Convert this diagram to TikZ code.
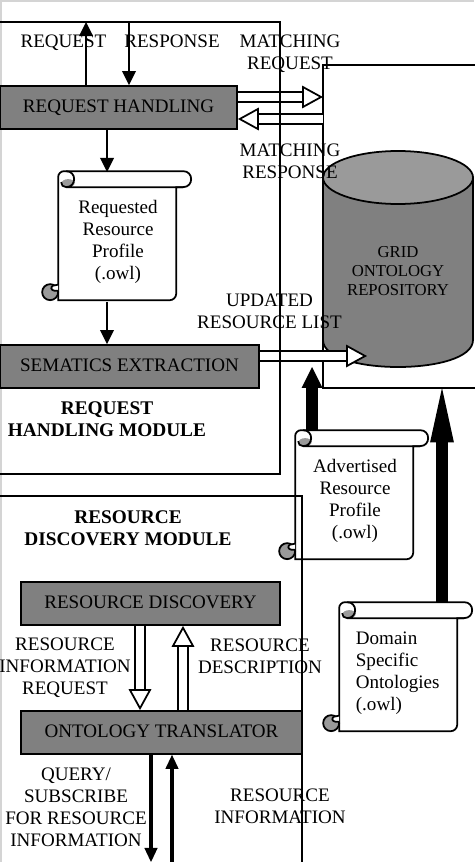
\documentclass[tikz,border=0pt]{standalone}
\usepackage{fontspec}
\setmainfont{Liberation Serif}
\usepackage{tikz}
\usetikzlibrary{arrows.meta}
\definecolor{boxGray}{HTML}{808080}
\definecolor{capGray}{HTML}{9A9A9A}
\definecolor{edgeGray}{HTML}{D4D4D4}

\begin{document}
\begin{tikzpicture}[x=0.02cm, y=-0.02cm, line width=1pt,
    label text/.style={font=\fontsize{10.85}{12.6}\selectfont, align=center, inner sep=0pt},
    bold text/.style={label text, font=\fontsize{11}{12.6}\selectfont\bfseries},
    repo text/.style={font=\fontsize{9.5}{10.8}\selectfont, align=center, inner sep=0pt},
    graybox/.style={draw, fill=boxGray, inner sep=0pt, minimum height=0.86cm, text height=7.2pt, text depth=2pt,
        font=\fontsize{10.85}{12.6}\selectfont},
    modulebox/.style={draw, inner sep=0pt},
    scrollbox/.style={inner sep=0pt, minimum width=2.36cm, minimum height=2.58cm},
    thin arrow/.style={-{Triangle[length=8pt, width=8pt, line width=0pt]}},
    bold arrow/.style={line width=2.8pt, -{Triangle[length=8pt, width=7.6pt, line width=0pt]}},
    hollow arrow/.style={double, double distance=5pt, line width=1pt,
        -{Triangle[length=11.9pt, width=12.8pt, fill=white, line width=1pt]}},
    pics/owlscroll/.style={code={
        \draw[fill=white] (0,125) -- (0,6) .. controls (0,2.7) and (2.7,0) .. (6,0) -- (125,0)
            .. controls (135.7,0) and (135.7,16) .. (125,16) -- (118,16) -- (118,123)
            .. controls (118,126.3) and (114.7,129) .. (112,129) -- (0,129) -- cycle;
        \fill[capGray] (10,12) ellipse[x radius=6.5, y radius=4];
        \draw (8,0) .. controls (18.7,0) and (18.7,16) .. (8,16) -- (125,16);
        \draw (8,16) .. controls (5,16) and (3,14) .. (3,11);
        \draw[fill=capGray] (-8,121) circle[radius=8];
        \draw[fill=white] (0,113.5) -- (-5,114.5) .. controls (-8,116) and (-7,119) .. (-4,119.5) -- (0,119.5);
    }}]
\useasboundingbox (0,0) rectangle (474,862);
\fill[edgeGray] (0,0) rectangle (474,862);
\fill[white] (2,2) rectangle (474,862);

% repository side
\node[modulebox, minimum width=3.34cm, minimum height=6.46cm] (repobox) at (406.5,226.5) {};
\draw[fill=boxGray] (323,177.5) -- (323,340) .. controls (323,376) and (473,376) .. (473,340) -- (473,177.5) -- cycle;
\draw[fill=capGray] (398,177.5) ellipse[x radius=75, y radius=26.5];
\node[inner sep=0pt, minimum width=3.0cm, minimum height=4.32cm] (repo) at (398,259) {};
\node[repo text] (repotext) at (398,271) {GRID\\ONTOLOGY\\REPOSITORY};

% boxes
\node[graybox, minimum width=4.74cm] (reqhandling) at (118.5,107.5) {REQUEST HANDLING};
\node[graybox, minimum width=5.18cm] (sematics) at (129.5,366.5) {SEMATICS EXTRACTION};
\node[graybox, minimum width=5.18cm] (rdiscovery) at (150.5,603.5) {RESOURCE DISCOVERY};
\node[graybox, minimum width=5.62cm] (translator) at (161.5,732.5) {ONTOLOGY TRANSLATOR};

% scrolls
\node[scrollbox] (reqprofile) at (118,236.5) {};
\pic at (reqprofile.north west) {owlscroll};
\node[label text] (reqtext) at (118,242) {Requested\\Resource\\Profile\\(.owl)};
\node[scrollbox] (advprofile) at (355,495.5) {};
\pic at (advprofile.north west) {owlscroll};
\node[label text] (advtext) at (355,501) {Advertised\\Resource\\Profile\\(.owl)};
\node[scrollbox] (domprofile) at (399,667.5) {};
\pic at (domprofile.north west) {owlscroll};
\node[label text, align=left, anchor=west] (domtext) at (355,673) {Domain\\Specific\\Ontologies\\(.owl)};

% free ends of the connectors
\coordinate (requestout) at (86,22);
\coordinate (responsein) at (129,22);
\coordinate (matchreq) at (323,97);
\coordinate (matchres) at (323,119);
\coordinate (profilein) at (107,172);
\coordinate (updatein) at (367,356);
\coordinate (advout) at (312,367);
\coordinate (domout) at (442,388);
\coordinate (transin) at (140,660);
\coordinate (descout) at (183,660);
\coordinate (queryout) at (151,862);
\coordinate (infoin) at (172,862);

% connectors
\draw[thin arrow] (reqhandling.north -| requestout) -- (requestout);
\draw[thin arrow] (responsein) -- (reqhandling.north -| responsein);
\draw[thin arrow] (reqhandling.south -| profilein) -- (profilein);
\draw[thin arrow] (reqprofile.south -| profilein) -- (sematics.north -| profilein);
\draw[hollow arrow] (reqhandling.east |- matchreq) -- (matchreq);
\draw[hollow arrow] (matchres) -- (reqhandling.east |- matchres);
\draw[hollow arrow] (sematics.east |- updatein) -- (updatein);
\draw[hollow arrow] (rdiscovery.south -| transin) -- (translator.north -| transin);
\draw[hollow arrow] (translator.north -| descout) -- (rdiscovery.south -| descout);
\draw[line width=6.8pt, -{Triangle[length=11.9pt, width=11.9pt, line width=0pt]}] (advprofile.north -| advout) -- (advout);
\draw[line width=6.8pt, -{Triangle[length=31pt, width=13.6pt, line width=0pt]}] (domprofile.north -| domout) -- (domout);
\draw[bold arrow] (translator.south -| queryout) -- (queryout);
\draw[bold arrow] (infoin) -- (translator.south -| infoin);

% modules go over the scrolls
\node[modulebox, minimum width=5.7cm, minimum height=9.04cm] (requestmodule) at (137.5,248) {};
\node[modulebox, minimum width=6.14cm, minimum height=7.68cm] (discoverymodule) at (148.5,688) {};

% labels
\node[label text] (requestlabel) at (63.5,42.5) {REQUEST};
\node[label text] (responselabel) at (172,41) {RESPONSE};
\node[label text] (matchreqlabel) at (290,53.5) {MATCHING\\REQUEST};
\node[label text] (matchreslabel) at (290,161.5) {MATCHING\\RESPONSE};
\node[label text] (updatelabel) at (269.5,311) {UPDATED\\RESOURCE LIST};
\node[bold text] (requestmodlabel) at (107,419) {REQUEST\\HANDLING MODULE};
\node[bold text] (discoverymodlabel) at (128,528) {RESOURCE\\DISCOVERY MODULE};
\node[label text] (resreqlabel) at (65,668) {RESOURCE\\INFORMATION\\REQUEST};
\node[label text] (resdesclabel) at (260,656.5) {RESOURCE\\DESCRIPTION};
\node[label text] (querylabel) at (76,807.5) {QUERY/\\SUBSCRIBE\\FOR RESOURCE\\INFORMATION};
\node[label text] (resinfolabel) at (280,806) {RESOURCE\\INFORMATION};
\end{tikzpicture}
\end{document}
